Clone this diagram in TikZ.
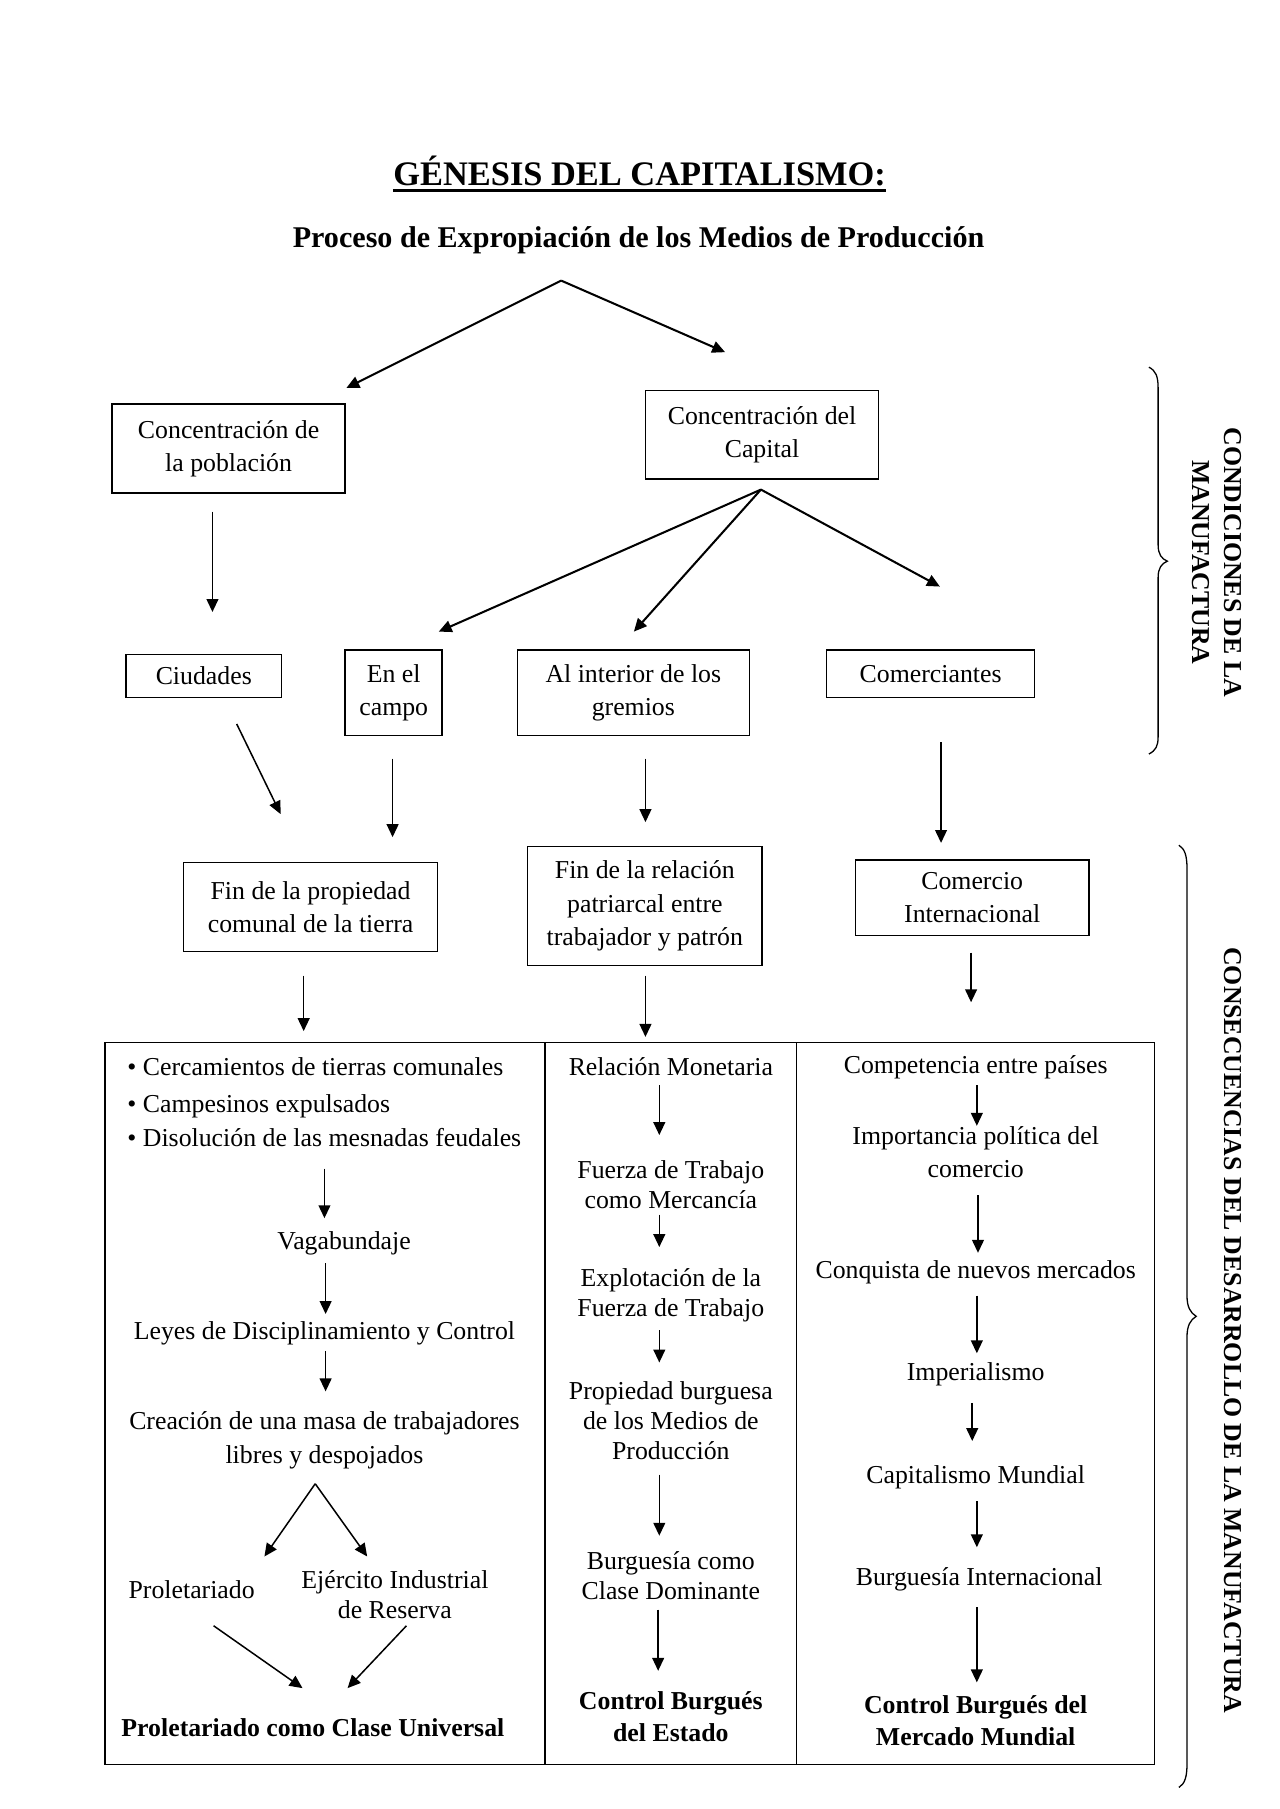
\documentclass[tikz,border=0pt]{standalone}
\usepackage{fontspec}
\setmainfont{Liberation Serif}
\usetikzlibrary{arrows.meta}
\def\U{0.53703pt}
\begin{document}
\begin{tikzpicture}[x=0.53703pt,y=-0.53703pt,
  txt/.style={font=\fontsize{12}{15.6}\selectfont, align=center, inner sep=0pt},
  tt/.style={font=\fontsize{12}{14}\selectfont, align=center, inner sep=0pt},
  btt/.style={font=\fontsize{12}{15}\selectfont\bfseries, align=center, inner sep=0pt},
  box/.style={txt, draw, line width=0.7pt},
  arr/.style={-{Triangle[length=6pt,width=5.5pt]}, line width=0.7pt},
  arrT/.style={-{Triangle[length=6pt,width=5.5pt]}, line width=0.95pt},
  brace/.style={line width=0.6pt},
  side/.style={font=\fontsize{12}{15}\selectfont\bfseries, align=center, inner sep=0pt, rotate=-90}
]
\path[use as bounding box] (0,0) rectangle (1108.5,1566.7);

% titles
\node[anchor=base, inner sep=0pt, font=\fontsize{16}{18}\selectfont\bfseries] (title) at (554,161) {GÉNESIS DEL CAPITALISMO:};
\draw[line width=1.3pt] ([yshift=-2.2pt]title.base west) -- ([yshift=-2.2pt]title.base east);
\node[inner sep=0pt, font=\fontsize{14}{16}\selectfont\bfseries] (sub) at (553,208) {Proceso de Expropiación de los Medios de Producción};

% top arrows
\coordinate (apex) at (486,243);
\coordinate (tl) at (300,336);
\coordinate (tr) at (628,305);
\draw[arrT] (apex) -- (tl);
\draw[arrT] (apex) -- (tr);

% first row boxes
\node[box, minimum width=202*\U, minimum height=77*\U] (cpob) at (198,388.5) {Concentración de\\la población};
\node[box, minimum width=202*\U, minimum height=77*\U] (ccap) at (660,376.5) {Concentración del\\Capital};

\coordinate (p1) at (184,443); \coordinate (p2) at (184,530);
\draw[arr] (p1) -- (p2);

\coordinate (capx) at (659,424);
\coordinate (c1) at (380,547);
\coordinate (c2) at (549,547);
\coordinate (c3) at (814,508);
\draw[arrT] (capx) -- (c1);
\draw[arrT] (capx) -- (c2);
\draw[arrT] (capx) -- (c3);

% second row
\node[box, minimum width=135*\U, minimum height=37*\U] (ciud) at (176.5,585.5) {Ciudades};
\node[box, minimum width=84*\U, minimum height=74*\U] (camp) at (341,600) {En el\\campo};
\node[box, minimum width=201*\U, minimum height=74*\U] (grem) at (548.5,600) {Al interior de los\\gremios};
\node[box, minimum width=180*\U, minimum height=41*\U] (come) at (806,583.5) {Comerciantes};

\coordinate (d1a) at (205,627); \coordinate (d1b) at (243,705);
\coordinate (d2a) at (340,657); \coordinate (d2b) at (340,725);
\coordinate (d3a) at (559,657); \coordinate (d3b) at (559,712);
\coordinate (d4a) at (815,643); \coordinate (d4b) at (815,730);
\draw[arr] (d1a) -- (d1b);
\draw[arr] (d2a) -- (d2b);
\draw[arr] (d3a) -- (d3b);
\draw[arr] (d4a) -- (d4b);

% third row
\node[box, minimum width=220*\U, minimum height=77*\U] (fprop) at (269,785.5) {Fin de la propiedad\\comunal de la tierra};
\node[box, minimum width=203*\U, minimum height=103*\U] (frel) at (558.5,784.5) {Fin de la relación\\patriarcal entre\\trabajador y patrón};
\node[box, minimum width=202*\U, minimum height=65*\U] (comi) at (842,777.5) {Comercio\\Internacional};

\coordinate (e1a) at (263,845); \coordinate (e1b) at (263,893);
\coordinate (e2a) at (559,845); \coordinate (e2b) at (559,898);
\coordinate (e3a) at (841,825); \coordinate (e3b) at (841,868);
\draw[arr] (e1a) -- (e1b);
\draw[arr] (e2a) -- (e2b);
\draw[arr] (e3a) -- (e3b);

% table
\draw[line width=0.7pt] (91,903) rectangle (1000,1528);
\draw[line width=0.7pt] (472,903) -- (472,1528);
\draw[line width=0.7pt] (690,903) -- (690,1528);

% left column
\node[tt, anchor=west, text height=1.5ex, text depth=0.25ex] (b1) at (110,926) {• Cercamientos de tierras comunales};
\node[tt, anchor=west, text height=1.5ex, text depth=0.25ex] (b2) at (110,958) {• Campesinos expulsados};
\node[tt, anchor=west, text height=1.5ex, text depth=0.25ex] (b3) at (110,988) {• Disolución de las mesnadas feudales};
\coordinate (l1a) at (281,1012); \coordinate (l1b) at (281,1055);
\draw[arr] (l1a) -- (l1b);
\node[tt] (vag) at (298,1077) {Vagabundaje};
\coordinate (l2a) at (282,1094); \coordinate (l2b) at (282,1138);
\draw[arr] (l2a) -- (l2b);
\node[tt] (leyes) at (281,1155) {Leyes de Disciplinamiento y Control};
\coordinate (l3a) at (282,1170); \coordinate (l3b) at (282,1205);
\draw[arr] (l3a) -- (l3b);
\node[txt] (crea) at (281,1247.5) {Creación de una masa de trabajadores\\libres y despojados};
\coordinate (lap) at (273,1285);
\coordinate (lpl) at (229,1348);
\coordinate (lpr) at (318,1348);
\draw[arr] (lap) -- (lpl);
\draw[arr] (lap) -- (lpr);
\node[tt] (prol) at (166,1377) {Proletariado};
\node[tt] (ejer) at (342,1381) {Ejército Industrial\\de Reserva};
\coordinate (m1a) at (185,1408); \coordinate (m1b) at (262,1462);
\coordinate (m2a) at (352,1408); \coordinate (m2b) at (301,1462);
\draw[arr] (m1a) -- (m1b);
\draw[arr] (m2a) -- (m2b);
\node[btt] (pcu) at (271,1496) {Proletariado como Clase Universal};

% middle column
\node[tt] (rmon) at (581,924) {Relación Monetaria};
\coordinate (n1a) at (571,940); \coordinate (n1b) at (571,983);
\draw[arr] (n1a) -- (n1b);
\node[tt] (ftm) at (581,1026) {Fuerza de Trabajo\\como Mercancía};
\coordinate (n2a) at (571,1052); \coordinate (n2b) at (571,1080);
\draw[arr] (n2a) -- (n2b);
\node[tt] (expl) at (581,1121.5) {Explotación de la\\Fuerza de Trabajo};
\coordinate (n3a) at (571,1152); \coordinate (n3b) at (571,1180);
\draw[arr] (n3a) -- (n3b);
\node[tt] (pbur) at (581,1230.5) {Propiedad burguesa\\de los Medios de\\Producción};
\coordinate (n4a) at (571,1277); \coordinate (n4b) at (571,1330);
\draw[arr] (n4a) -- (n4b);
\node[tt] (bcd) at (581,1364.5) {Burguesía como\\Clase Dominante};
\coordinate (n5a) at (570,1394); \coordinate (n5b) at (570,1447);
\draw[arr] (n5a) -- (n5b);
\node[btt] (cbe) at (581,1487) {Control Burgués\\del Estado};

% right column
\node[tt] (comp) at (845,924) {Competencia entre países};
\node[txt] (impc) at (845,998) {Importancia política del\\comercio};
\coordinate (r1a) at (846,940); \coordinate (r1b) at (846,975);
\draw[arr] (r1a) -- (r1b);
\coordinate (r2a) at (847,1035); \coordinate (r2b) at (847,1085);
\draw[arr] (r2a) -- (r2b);
\node[tt] (conq) at (845,1102) {Conquista de nuevos mercados};
\coordinate (r3a) at (846,1122); \coordinate (r3b) at (846,1172);
\draw[arr] (r3a) -- (r3b);
\node[tt] (imp) at (845,1190) {Imperialismo};
\coordinate (r4a) at (842,1215); \coordinate (r4b) at (842,1248);
\draw[arr] (r4a) -- (r4b);
\node[tt] (capm) at (845,1279) {Capitalismo Mundial};
\coordinate (r5a) at (846,1300); \coordinate (r5b) at (846,1340);
\draw[arr] (r5a) -- (r5b);
\node[tt] (bint) at (848,1368) {Burguesía Internacional};
\coordinate (r6a) at (846,1392); \coordinate (r6b) at (846,1457);
\draw[arr] (r6a) -- (r6b);
\node[btt] (cbm) at (845,1490) {Control Burgués del\\Mercado Mundial};

% braces
\draw[brace] (995,318) .. controls (1001,321) and (1003,326) .. (1003,336) -- (1003,472)
  .. controls (1003,480) and (1006,484) .. (1011,486)
  .. controls (1006,488) and (1003,492) .. (1003,500) -- (1003,638)
  .. controls (1003,646) and (1001,650) .. (995,653);
\node[side] (cond) at (1054,487) {CONDICIONES DE LA\\MANUFACTURA};

\draw[brace] (1021,732) .. controls (1026,735) and (1028,741) .. (1028,752) -- (1028,1122)
  .. controls (1028,1132) and (1031,1137) .. (1036,1140)
  .. controls (1031,1143) and (1028,1148) .. (1028,1158) -- (1028,1528)
  .. controls (1028,1539) and (1026,1545) .. (1021,1548);
\node[side] (cons) at (1068,1152) {CONSECUENCIAS DEL DESARROLLO DE LA MANUFACTURA};
\end{tikzpicture}
\end{document}
